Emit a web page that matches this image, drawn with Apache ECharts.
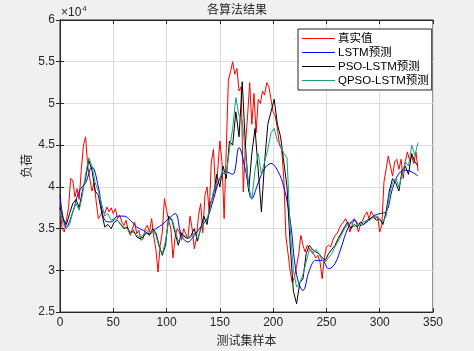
<!DOCTYPE html>
<html>
<head>
<meta charset="utf-8">
<script src="https://cdn.jsdelivr.net/npm/echarts@6/dist/echarts.min.js"></script>
<style>
  html, body { margin: 0; padding: 0; background: #f0f0f0; }
  #main { width: 474px; height: 351px; }
</style>
</head>
<body>
<div id="main"></div>
<script>
// 数据（单位 ×10^4），横坐标为测试集样本序号
var seriesNames = ['真实值', 'LSTM预测', 'PSO-LSTM预测', 'QPSO-LSTM预测'];
var xTicks = [0, 50, 100, 150, 200, 250, 300, 350];
var yTicks = [2.5, 3, 3.5, 4, 4.5, 5, 5.5, 6];

// 真实值：每 2 个样本取一点
var trueStep = 2;
var trueValues = [
  3.75, 3.5, 3.46, 3.6, 3.75, 4.1, 4.08, 3.88, 3.98, 3.85,
  4.21, 4.5, 4.6, 4.25, 4.1, 3.95, 4.05, 3.82, 3.62, 3.66,
  3.72, 3.68, 3.76, 3.7, 3.75, 3.68, 3.74, 3.62, 3.66, 3.58,
  3.54, 3.6, 3.48, 3.42, 3.5, 3.58, 3.44, 3.48, 3.36, 3.38,
  3.5, 3.54, 3.46, 3.62, 3.4, 3.25, 2.98, 3.3, 3.46, 3.86,
  3.72, 3.6, 3.5, 3.15, 3.4, 3.5, 3.46, 3.36, 3.5, 3.44,
  3.38, 3.65, 3.5, 3.26, 3.38, 3.66, 3.8, 3.45, 3.9, 4.0,
  3.7, 4.3, 4.45, 3.95, 4.2, 4.55, 4.3, 3.62, 4.45, 5.28,
  5.38, 5.5, 5.35, 5.42, 5.15, 5.2, 3.94, 4.5, 4.85, 5.25,
  4.75, 5.12, 4.65, 5.05, 5.0, 5.15, 5.1, 5.25, 5.2, 5.05,
  4.9, 4.85, 4.7, 4.5, 4.45, 4.1, 3.4, 3.2, 2.99, 2.85,
  2.92, 3.05, 3.2, 3.42, 3.3, 3.22, 3.3, 3.26, 3.24, 3.2,
  3.15, 3.18, 3.1, 2.9, 3.15, 3.28, 3.3, 3.28, 3.36, 3.42,
  3.44, 3.5, 3.55, 3.58, 3.62, 3.56, 3.46, 3.54, 3.62, 3.58,
  3.46, 3.55, 3.6, 3.66, 3.7, 3.62, 3.71, 3.66, 3.62, 3.65,
  3.46, 3.55, 4.06, 4.21, 4.37, 4.25, 4.13, 4.3, 4.33, 4.21,
  4.33, 4.1, 4.3, 4.42, 4.32, 4.37, 4.28, 4.42, 4.19
];

// LSTM预测：每 6 个样本取一点（曲线较平滑）
var lstmStep = 6;
var lstmValues = [
  3.9, 3.52, 3.7, 3.95, 4.05, 4.24, 4.0, 3.6, 3.58, 3.65,
  3.65, 3.6, 3.52, 3.48, 3.44, 3.5, 3.55, 3.62, 3.68, 3.42,
  3.34, 3.42, 3.52, 3.62, 3.85, 4.1, 4.18, 4.15, 4.47, 4.2,
  3.86, 4.05, 4.22, 4.28, 4.2, 4.0, 3.6, 2.95, 2.76, 3.0,
  3.12, 3.12, 3.02, 3.08, 3.28, 3.5, 3.6, 3.54, 3.58, 3.65,
  3.68, 3.7, 3.98, 4.16, 4.2, 4.18, 4.13
];

// PSO-LSTM预测：每 3 个样本取一点
var psoStep = 3;
var psoValues = [
  3.75, 3.62, 3.55, 3.68, 3.8, 3.85, 3.75, 3.95, 4.1, 4.32,
  4.2, 3.95, 3.9, 3.7, 3.52, 3.55, 3.5, 3.58, 3.6, 3.55,
  3.5, 3.52, 3.45, 3.48, 3.4, 3.38, 3.4, 3.45, 3.42, 3.5,
  3.45, 3.3, 3.18, 3.3, 3.65, 3.6, 3.45, 3.3, 3.45, 3.4,
  3.38, 3.42, 3.5, 3.35, 3.5, 3.65, 3.55, 3.8, 3.9, 4.15,
  4.0, 4.25, 4.1, 4.55, 4.5, 4.9, 4.6, 5.26, 4.5, 3.95,
  4.4, 4.7, 4.2, 3.7, 4.3, 4.75, 4.9, 5.05, 4.75, 4.6,
  4.3, 4.0, 3.3, 2.75, 2.6, 2.85, 2.9, 3.2, 3.3, 3.25,
  3.22, 3.2, 3.15, 3.12, 3.2, 3.25, 3.3, 3.38, 3.45, 3.52,
  3.58, 3.5, 3.55, 3.52, 3.58, 3.55, 3.6, 3.62, 3.64, 3.6,
  3.62, 3.55, 3.7, 3.95, 4.1, 4.05, 3.95, 4.2, 4.25, 4.15,
  4.4, 4.3, 4.25
];

// QPSO-LSTM预测：每 3 个样本取一点
var qpsoStep = 3;
var qpsoValues = [
  3.72, 3.55, 3.5, 3.55, 3.7, 3.8, 3.72, 3.9, 4.15, 4.35,
  4.25, 4.05, 3.95, 3.8, 3.65, 3.68, 3.6, 3.62, 3.6, 3.55,
  3.52, 3.5, 3.46, 3.45, 3.42, 3.4, 3.42, 3.48, 3.45, 3.48,
  3.42, 3.28, 3.2, 3.35, 3.6, 3.62, 3.48, 3.35, 3.4, 3.42,
  3.38, 3.4, 3.45, 3.38, 3.48, 3.6, 3.62, 3.75, 3.95, 4.05,
  4.1, 4.2, 4.15, 4.45, 4.7, 5.07, 4.85, 4.8, 4.4, 4.0,
  3.85, 4.2, 4.4, 4.15, 4.3, 4.45, 4.65, 4.7, 4.55, 4.5,
  4.4, 4.35, 3.5, 3.0, 2.8, 2.85, 2.95, 3.1, 3.25, 3.2,
  3.25, 3.2, 3.12, 3.1, 3.15, 3.2, 3.28, 3.35, 3.42, 3.5,
  3.55, 3.58, 3.52, 3.55, 3.55, 3.58, 3.6, 3.6, 3.64, 3.65,
  3.62, 3.58, 3.65, 3.9, 4.05, 4.1, 4.0, 4.15, 4.3, 4.25,
  4.5, 4.38, 4.53
];

var colors = ['#ff0000', '#0000ff', '#000000', '#1d9f78'];
var latinFont = '"Liberation Sans", Arial, "Noto Sans CJK SC", sans-serif';
var cjkFont = '"Noto Sans CJK SC", sans-serif';

// 把序号和数值拼成 [x, y]
function toPairs(values, step) {
  return values.map(function (v, i) { return [i * step, v]; });
}

var myChart = echarts.init(document.getElementById('main'));

var allData = [
  toPairs(trueValues, trueStep),
  toPairs(lstmValues, lstmStep),
  toPairs(psoValues, psoStep),
  toPairs(qpsoValues, qpsoStep)
];

var series = seriesNames.map(function (name, i) {
  return {
    name: name,
    type: 'line',
    data: allData[i],
    showSymbol: false,
    symbol: 'none',
    smooth: i === 1 ? 0.4 : false,
    lineStyle: { color: colors[i], width: 1 },
    itemStyle: { color: colors[i] },
    animation: false,
    z: 2 + i
  };
});

var tickStyle = { show: true, inside: true, length: 4, lineStyle: { color: '#262626' } };
var lineAxis = { show: true, lineStyle: { color: '#262626', width: 1 } };

var option = {
  backgroundColor: '#f0f0f0',
  animation: false,
  title: {
    text: '各算法结果',
    left: 'center',
    top: -2,
    textStyle: { fontFamily: cjkFont, fontSize: 12, fontWeight: 'normal', color: '#262626' }
  },
  legend: {
    data: seriesNames.map(function (n) { return { name: n, icon: 'rect' }; }),
    orient: 'vertical',
    left: 298,
    top: 29,
    itemWidth: 33,
    itemHeight: 1.2,
    itemGap: 1,
    padding: [3, 3, 3, 4],
    backgroundColor: '#ffffff',
    borderColor: '#262626',
    borderWidth: 1,
    borderRadius: 0,
    textStyle: { fontFamily: latinFont, fontSize: 11.5, color: '#000000', padding: [0, 0, 0, -2], lineHeight: 13 }
  },
  grid: {
    left: 60, right: 41, top: 20, bottom: 38,
    show: true,
    backgroundColor: '#ffffff',
    borderColor: '#262626',
    borderWidth: 1
  },
  graphic: [{
    type: 'text',
    left: 61,
    top: 5,
    style: {
      text: '×10{sup|4}',
      rich: { sup: { fontSize: 8, verticalAlign: 'top', padding: [0, 0, 7, 1], fill: '#262626' } },
      font: '12px "Liberation Sans", Arial',
      fill: '#262626'
    }
  }],
  xAxis: [{
    type: 'value',
    min: 0, max: 350, interval: 50,
    name: '测试集样本',
    nameLocation: 'middle',
    nameGap: 21,
    nameTextStyle: { fontFamily: cjkFont, fontSize: 12, color: '#262626' },
    axisLine: lineAxis,
    axisTick: tickStyle,
    axisLabel: { fontFamily: latinFont, fontSize: 12, color: '#262626', margin: 5 },
    splitLine: { show: true, lineStyle: { color: '#dedede', width: 1 } }
  }, {
    type: 'value',
    position: 'top',
    min: 0, max: 350, interval: 50,
    axisLine: lineAxis,
    axisTick: tickStyle,
    axisLabel: { show: false },
    splitLine: { show: false }
  }],
  yAxis: [{
    type: 'value',
    min: 2.5, max: 6, interval: 0.5,
    name: '负荷',
    nameLocation: 'middle',
    nameGap: 28,
    nameMoveOverlap: false,
    nameRotate: 90,
    nameTextStyle: { fontFamily: cjkFont, fontSize: 12, color: '#262626' },
    axisLine: lineAxis,
    axisTick: tickStyle,
    axisLabel: { fontFamily: latinFont, fontSize: 12, color: '#262626', margin: 5 },
    splitLine: { show: true, lineStyle: { color: '#dedede', width: 1 } }
  }, {
    type: 'value',
    position: 'right',
    min: 2.5, max: 6, interval: 0.5,
    axisLine: lineAxis,
    axisTick: tickStyle,
    axisLabel: { show: false },
    splitLine: { show: false }
  }],
  series: series
};

myChart.setOption(option);
</script>
</body>
</html>
